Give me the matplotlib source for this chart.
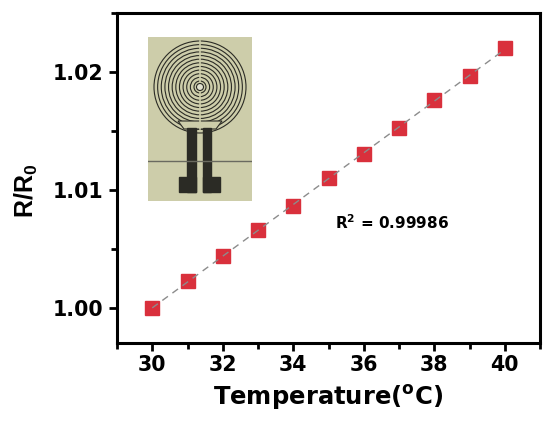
import matplotlib
matplotlib.use("Agg")
import matplotlib.pyplot as plt
import numpy as np
from matplotlib.patches import Rectangle, Circle, Polygon
from matplotlib.ticker import MultipleLocator

plt.rcParams['font.family'] = ['DejaVu Sans']
plt.rcParams['font.weight'] = 'bold'
plt.rcParams['mathtext.default'] = 'regular'

temperature = [30, 31, 32, 33, 34, 35, 36, 37, 38, 39, 40]
r_ratio = [1.0000, 1.00229, 1.00441, 1.00661, 1.00864, 1.01099,
           1.01305, 1.01525, 1.01763, 1.01966, 1.02201]
x_ticks = [30, 32, 34, 36, 38, 40]
y_ticks = [1.00, 1.01, 1.02]
y_tick_labels = ['1.00', '1.01', '1.02']
r2_text = 'R$^{2}$ = 0.99986'

W, H = 550, 424
fig = plt.figure(figsize=(W / 100, H / 100), dpi=100)
ax = fig.add_axes([117 / W, 1 - 343 / H, (540 - 117) / W, (343 - 13) / H])

ax.plot(temperature, r_ratio, 's', color='#d9303c', markersize=10.5,
        markeredgecolor='#d9303c', zorder=3)
coef = np.polyfit(temperature, r_ratio, 1)
ax.plot(temperature, np.polyval(coef, temperature), '--', color='#8c8c8c',
        lw=1.0, dashes=(5, 4), zorder=4)

ax.set_xlim(29, 41)
ax.set_ylim(0.99703, 1.025)
ax.set_xticks(x_ticks)
ax.set_xticklabels([str(t) for t in x_ticks])
ax.set_yticks(y_ticks)
ax.set_yticklabels(y_tick_labels)
ax.xaxis.set_minor_locator(MultipleLocator(1))
ax.yaxis.set_minor_locator(MultipleLocator(0.005))
ax.tick_params(which='major', direction='out', length=6, width=2,
               labelsize=14.8, pad=4)
ax.tick_params(axis='x', which='major', pad=2.5)
ax.tick_params(which='minor', direction='out', length=4, width=2)
for lab in ax.get_xticklabels() + ax.get_yticklabels():
    lab.set_fontweight('bold')
for s in ax.spines.values():
    s.set_linewidth(2.2)

ax.set_xlabel('Temperature($^{o}$C)', fontsize=17.5,
              fontweight='bold', labelpad=6)
ax.set_ylabel('R/R$_{0}$', fontsize=18, fontweight='bold',
              family=['Liberation Sans', 'DejaVu Sans'])
ax.yaxis.set_label_coords(-0.181, 0.46)
ax.text(0.516, 0.365, r2_text, transform=ax.transAxes, fontsize=11,
        fontweight='bold', ha='left', va='center')

# Inset sketch of the spiral sensor photo
bg = '#cdcdaa'
ink = '#2b2b25'
ix0, iy0, ix1, iy1 = 148, 37, 252, 201
iax = fig.add_axes([ix0 / W, 1 - iy1 / H, (ix1 - ix0) / W, (iy1 - iy0) / H])
iw, ih = ix1 - ix0, iy1 - iy0
iax.set_xlim(0, iw)
iax.set_ylim(ih, 0)
iax.axis('off')
iax.add_patch(Rectangle((0, 0), iw, ih, color=bg, zorder=0))
cx, cy = 52, 50
radii = np.linspace(46, 6, 12)
for i, r in enumerate(radii):
    iax.add_patch(Circle((cx, cy), r, facecolor=bg,
                         edgecolor=ink, lw=0.8, zorder=2 + i))
iax.add_patch(Polygon([[30, 84], [74, 84], [68, 92], [36, 92]],
                      closed=True, facecolor=bg, edgecolor=ink, lw=0.8, zorder=20))
iax.plot([cx, cx], [cy - 46, cy + 42], color=bg, lw=1.2, zorder=30)
iax.add_patch(Circle((cx, cy), 3.5, facecolor='#e2e2d0', edgecolor=ink,
                     lw=0.8, zorder=31))
iax.add_patch(Rectangle((39, 91), 9, 64, color=ink, zorder=32))
iax.add_patch(Rectangle((55, 91), 8, 64, color=ink, zorder=32))
iax.add_patch(Rectangle((31, 140), 17, 15, color=ink, zorder=32))
iax.add_patch(Rectangle((55, 140), 17, 15, color=ink, zorder=32))
iax.plot([0, iw], [124, 124], color='#6a6a60', lw=1.0, zorder=33)

fig.savefig('out.png', dpi=100)
